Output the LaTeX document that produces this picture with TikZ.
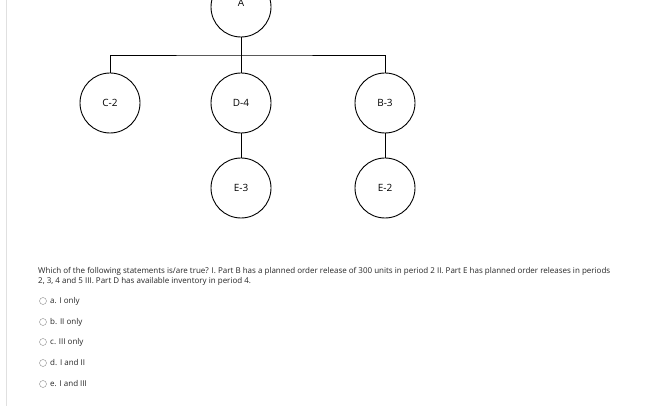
\documentclass[tikz,border=0pt]{standalone}
\usepackage{fontspec}
\setmainfont{Open Sans}
\begin{document}
\begin{tikzpicture}[x=1pt,y=-1pt,
  part/.style={draw,circle,minimum size=60pt,inner sep=0pt,line width=0.9pt,font=\fontsize{10}{12}\selectfont},
  link/.style={line width=0.9pt},
  q/.style={anchor=west,inner sep=0pt,font=\fontsize{8}{9}\selectfont,text=black!85},
  radio/.style={draw=black!45,circle,minimum size=7pt,inner sep=0pt,line width=0.4pt}]
\useasboundingbox (0,0) rectangle (646,406);
\fill[white] (0,0) rectangle (646,406);
\draw[black!12,line width=1pt] (6,0) -- (6,406);
\node[part] (A) at (241,7) {};
\node[inner sep=0pt,font=\fontsize{10}{12}\selectfont] (Al) at (241,3) {A};
\node[part] (C) at (110,103) {C-2};
\node[part] (D) at (241,103) {D-4};
\node[part] (B) at (385,103) {B-3};
\node[part] (E3) at (241,188) {E-3};
\node[part] (E2) at (385,188) {E-2};
\coordinate (bar) at (241,55);
\draw[link] (A.south) -- (bar);
\draw[link] (C.north) |- (bar) -| (B.north);
\draw[link] (bar) -- (D.north);
\draw[link] (D) -- (E3);
\draw[link] (B) -- (E2);
\node[q] (t1) at (38,271) {Which of the following statements is/are true? I. Part B has a planned order release of 300 units in period 2 II. Part E has planned order releases in periods};
\node[q] (t2) at (38,281) {2, 3, 4 and 5 III. Part D has available inventory in period 4.};
\foreach \n/\y/\t in {a/301/a. I only, b/322/b. II only, c/342/c. III only, d/363/d. I and II, e/384/e. I and III}{
  \node[radio] (r\n) at (43,\y) {};
  \node[q] (o\n) at (50,\y) {\t};
}
\end{tikzpicture}
\end{document}
